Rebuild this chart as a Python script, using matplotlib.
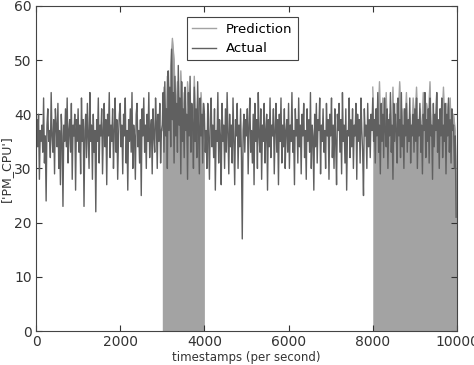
import numpy as np
import matplotlib
matplotlib.use("Agg")
import matplotlib.pyplot as plt

# actual PM_CPU, one sample every 20 timestamps
actual = [
    36, 39, 34, 40, 28, 37, 35, 38, 33, 43, 31, 36, 24, 38, 41, 35, 37, 32, 44, 36, 33, 39, 29, 41, 38,
    34, 42, 30, 37, 27, 40, 36, 23, 38, 35, 41, 34, 43, 31, 37, 39, 33, 42, 28, 38, 36, 40, 26, 39, 35,
    41, 33, 38, 29, 43, 35, 39, 23, 37, 40, 32, 42, 36, 30, 44, 35, 38, 28, 40, 33, 37, 22, 39, 35, 43,
    31, 38, 36, 41, 29, 37, 42, 34, 39, 27, 40, 36, 44, 32, 38, 35, 41, 30, 37, 43, 33, 39, 28, 36, 40,
    42, 34, 38, 29, 40, 36, 43, 31, 37, 26, 39, 35, 41, 33, 44, 30, 38, 36, 28, 40, 42, 34, 37, 31, 39,
    25, 41, 36, 43, 33, 38, 30, 40, 35, 44, 32, 37, 39, 29, 41, 36, 33, 43, 38, 30, 40, 35, 42, 31, 37,
    38, 44, 33, 46, 36, 41, 30, 48, 37, 45, 34, 52, 39, 44, 31, 47, 36, 42, 33, 49, 38, 43, 29, 46, 35,
    41, 32, 45, 37, 40, 28, 44, 36, 47, 33, 42, 38, 30, 45, 35, 41, 32, 46, 37, 29, 43, 36, 40, 31, 42,
    40, 33, 37, 30, 42, 36, 28, 39, 43, 34, 38, 32, 41, 26, 37, 35, 44, 31, 39, 36, 27, 42, 35, 38, 30,
    41, 33, 44, 36, 29, 40, 34, 38, 31, 43, 35, 27, 39, 36, 42, 30, 38, 34, 41, 32, 17, 37, 40, 33, 39,
    36, 41, 29, 38, 43, 33, 37, 31, 40, 27, 42, 35, 39, 30, 44, 36, 33, 41, 28, 38, 35, 42, 31, 37, 40,
    26, 39, 34, 43, 32, 38, 36, 41, 29, 37, 42, 33, 39, 27, 40, 35, 43, 31, 38, 34, 41, 30, 37, 39, 33,
    42, 30, 38, 35, 44, 33, 37, 27, 41, 36, 39, 31, 43, 34, 38, 29, 40, 36, 42, 32, 37, 28, 41, 35, 39,
    33, 44, 30, 38, 36, 26, 40, 34, 42, 31, 39, 37, 43, 29, 38, 35, 41, 33, 37, 30, 42, 36, 39, 28, 40,
    36, 43, 32, 38, 30, 41, 35, 27, 40, 37, 42, 33, 39, 29, 44, 35, 38, 31, 41, 26, 37, 36, 43, 32, 39,
    34, 41, 30, 38, 36, 42, 28, 40, 35, 39, 31, 43, 37, 33, 25, 41, 36, 38, 30, 42, 34, 39, 32, 40, 37,
    43, 35, 39, 31, 41, 36, 44, 33, 38, 29, 42, 35, 40, 32, 43, 37, 34, 41, 30, 39, 36, 44, 33, 38, 28,
    42, 35, 40, 37, 31, 43, 36, 39, 32, 44, 34, 38, 30, 41, 36, 42, 33, 39, 35, 43, 31, 38, 36, 40, 33,
    41, 35, 43, 30, 39, 36, 42, 33, 38, 29, 40, 37, 44, 32, 39, 35, 41, 31, 43, 36, 38, 28, 42, 34, 40,
    37, 44, 33, 39, 30, 41, 36, 43, 32, 38, 35, 42, 29, 40, 36, 43, 33, 39, 31, 41, 37, 38, 30, 36, 21,
]
actual_t = np.arange(len(actual)) * 20

# predictions on the two test windows, one sample every 40 timestamps
pred1 = [37, 45, 34, 47, 38, 49, 54, 50, 40, 46, 35, 48, 37, 44, 31, 46, 39, 42, 33, 47, 36, 43, 30, 44, 38, 40]
pred1_t = 3000 + np.arange(len(pred1)) * 40
pred2 = [45, 33, 41, 37, 46, 31, 43, 38, 44, 32, 40, 36, 45, 30, 42, 39, 46, 34, 41, 37, 44, 32, 40, 35, 43,
         38, 45, 32, 41, 36, 44, 31, 42, 39, 46, 33, 40, 37, 44, 30, 41, 38, 45, 34, 42, 36, 43, 32, 40, 37, 22]
pred2_t = 8000 + np.arange(len(pred2)) * 40

pred_color = "#a3a3a3"
act_color = "#606060"

fig = plt.figure(figsize=(4.74, 3.65), dpi=100)
ax = fig.add_axes([0.076, 0.093, 0.888, 0.891])

for t, p in [(pred1_t, pred1), (pred2_t, pred2)]:
    ax.fill_between(t, 0, p, color=pred_color, lw=0)
ax.plot(pred1_t, pred1, color=pred_color, lw=1, label="Prediction")
ax.plot(pred2_t, pred2, color=pred_color, lw=1)
ax.plot(actual_t, actual, color=act_color, lw=1, label="Actual")

ax.set_xlim(0, 10000)
ax.set_ylim(0, 60)
ax.set_xticks([0, 2000, 4000, 6000, 8000, 10000])
ax.set_yticks([0, 10, 20, 30, 40, 50, 60])
ax.tick_params(direction="in", top=True, right=True, labelsize=10, colors="#333333", length=4, pad=3)
for s in ax.spines.values():
    s.set_color("#444444")
ax.set_xlabel("timestamps (per second)", fontsize=8.5, color="#333333", labelpad=1)
ax.set_ylabel("['PM_CPU']", fontsize=9, color="#333333", labelpad=1)

leg = ax.legend(loc="upper center", bbox_to_anchor=(0.49, 0.985), fontsize=9.5,
                fancybox=False, framealpha=1, edgecolor="#444444", handlelength=1.8)
leg.get_frame().set_linewidth(0.8)

fig.savefig("out.png", dpi=100)
